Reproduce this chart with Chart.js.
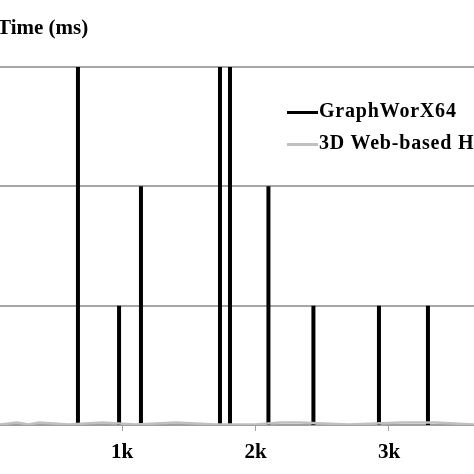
<!DOCTYPE html>
<html>
<head>
<meta charset="utf-8">
<script src="https://cdn.jsdelivr.net/npm/chart.js@4"></script>
<style>
  html, body { margin: 0; padding: 0; background: #fff; overflow: hidden; }
  #wrap { position: relative; width: 474px; height: 474px; }
  .txt { position: absolute; font-family: 'Liberation Serif', 'Times New Roman', serif; font-weight: bold; color: #000; white-space: nowrap; }
  .key { position: absolute; height: 3px; width: 31px; }
</style>
</head>
<body>
<div id="wrap">
  <canvas id="c" width="474" height="474"></canvas>
  <div class="txt" style="left:-3px;top:15px;font-size:21px">Time (ms)</div>
  <div class="key" style="left:287px;top:111px;background:#000"></div>
  <div class="txt" style="left:319px;top:99px;font-size:20px;letter-spacing:0.8px">GraphWorX64</div>
  <div class="key" style="left:287px;top:143px;background:#c0c0c0"></div>
  <div class="txt" style="left:319px;top:131px;font-size:20px;letter-spacing:0.8px">3D Web-based HMI</div>
</div>
<script>
// GraphWorX64 spikes
const spikeX = [670, 978, 1142, 1734, 1809, 2097, 2434, 2925, 3292];
const spikeY = [3, 1, 2, 3, 3, 2, 1, 1, 1];
// 3D Web-based series (near zero)
const webX = [86, 213, 300, 378, 600, 850, 1100, 1404, 1700, 2000, 2187, 2333, 2700, 3097, 3210, 3345, 3637];
const webY = [0.005, 0.02, 0.005, 0.02, 0.005, 0.02, 0.005, 0.02, 0.005, 0.005, 0.02, 0.02, 0.005, 0.02, 0.02, 0.02, 0.005];
const xTicks = [1000, 2000, 3000];
const xTickLabels = ['1k', '2k', '3k'];
const yTicks = [0, 1, 2, 3];

const spikes = [];
spikeX.forEach((x, i) => {
  spikes.push({ x, y: 0 }, { x, y: spikeY[i] }, { x, y: null });
});
const web = webX.map((x, i) => ({ x, y: webY[i] }));

new Chart(document.getElementById('c'), {
  type: 'line',
  data: {
    datasets: [
      { label: 'GraphWorX64', data: spikes, borderColor: '#000', borderWidth: 4, pointRadius: 0, spanGaps: false, borderCapStyle: 'butt', order: 2 },
      { label: '3D Web-based HMI', data: web, borderColor: '#c0c0c0', borderWidth: 2.5, pointRadius: 0, order: 1 }
    ]
  },
  options: {
    responsive: false, animation: false,
    layout: { padding: { top: 67, bottom: 0, left: 0, right: 0 } },
    plugins: { legend: { display: false }, tooltip: { enabled: false } },
    scales: {
      x: {
        type: 'linear', min: 86, max: 3637,
        afterBuildTicks: s => { s.ticks = xTicks.map(v => ({ value: v })); },
        ticks: {
          padding: 11, color: '#000',
          font: { family: "'Liberation Serif', serif", size: 21, weight: 'bold', lineHeight: 1 },
          callback: v => xTickLabels[xTicks.indexOf(v)]
        },
        grid: { drawOnChartArea: false, drawTicks: true, tickLength: 6, color: '#a0a0a0' },
        border: { color: '#a0a0a0', width: 2 }
      },
      y: {
        min: 0, max: 3,
        afterBuildTicks: s => { s.ticks = yTicks.map(v => ({ value: v })); },
        afterFit: s => { s.width = 0; },
        ticks: { display: false },
        grid: { color: '#a6a6a6', lineWidth: 2, drawTicks: false },
        border: { display: false }
      }
    }
  }
});
</script>
</body>
</html>
